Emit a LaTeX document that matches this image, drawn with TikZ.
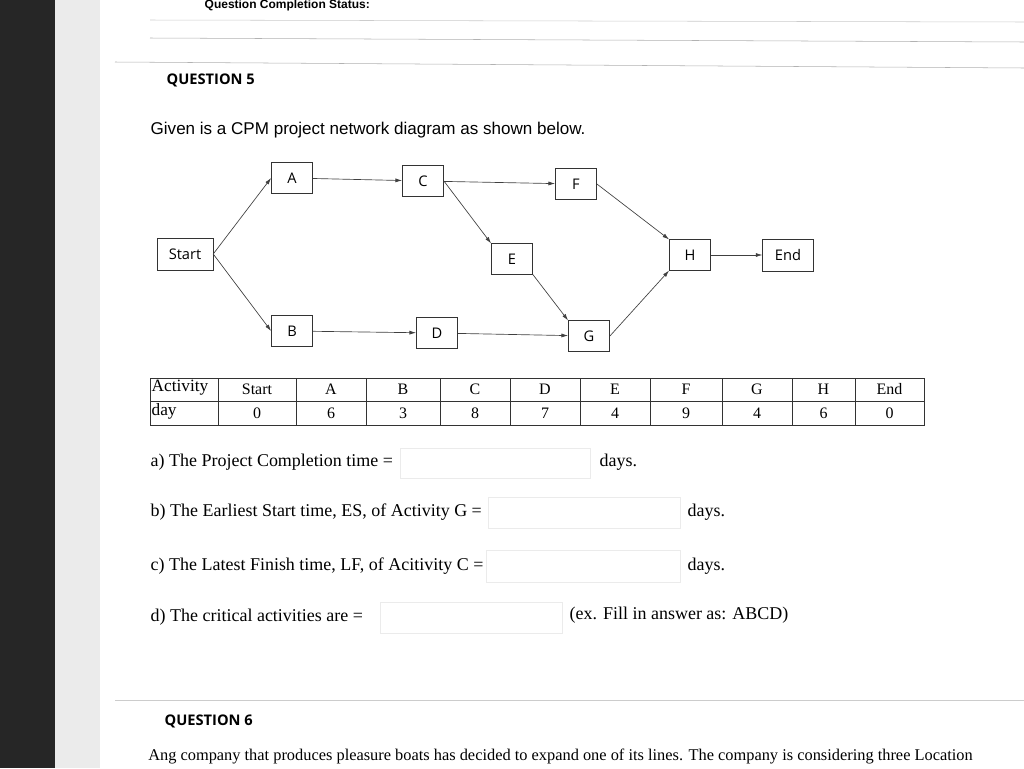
\documentclass[tikz,border=0pt]{standalone}
\usepackage{fontspec}
\setmainfont{Liberation Serif}
\newfontfamily\boxf{Open Sans}
\newfontfamily\arialf{Liberation Sans}
\usetikzlibrary{arrows.meta}
\begin{document}
\begin{tikzpicture}[x=0.0264cm,y=-0.0264cm,
  act/.style={draw=black!80,fill=white,inner sep=0pt,font=\boxf\fontsize{11}{12}\selectfont},
  arr/.style={draw=black!75,line width=0.5pt,-{Latex[length=5pt,width=3pt]}},
  qt/.style={font=\fontsize{13.5}{15}\selectfont,anchor=west},
  tt/.style={font=\fontsize{12}{13}\selectfont},
  inp/.style={draw=black!8,line width=0.4pt}]
\useasboundingbox (0,0) rectangle (1024,768);
\fill[black!8] (0,0) rectangle (1024,768);
\fill[black!85] (0,0) rectangle (55,768);
\fill[white] (100,0) rectangle (1024,768);
\draw[black!30] (115,62) -- (1024,68);
\draw[black!30] (150,38) -- (1024,42);
\draw[black!20] (150,20) -- (1024,22);
\draw[black!20] (115,700) -- (1024,700);
\node[font=\arialf\bfseries\fontsize{9}{10}\selectfont,anchor=west] (t0) at (200,5) {Question Completion Status:};
\node[font=\boxf\bfseries\fontsize{11}{13}\selectfont,anchor=west] (q5) at (162,80) {QUESTION 5};
\node[font=\arialf\fontsize{12.8}{15}\selectfont,anchor=west] (giv) at (146,130) {Given is a CPM project network diagram as shown below.};
% nodes
\node[act,minimum width=31pt,minimum height=23pt] (A) at (292,178) {A};
\node[act,minimum width=31pt,minimum height=23pt] (C) at (423,181) {C};
\node[act,minimum width=31pt,minimum height=23pt] (F) at (576,184) {F};
\node[act,minimum width=42pt,minimum height=24pt] (S) at (185,254) {Start};
\node[act,minimum width=31pt,minimum height=23pt] (E) at (512,259) {E};
\node[act,minimum width=31pt,minimum height=23pt] (H) at (690,255) {H};
\node[act,minimum width=38pt,minimum height=24pt] (End) at (788,255) {End};
\node[act,minimum width=31pt,minimum height=23pt] (B) at (292,331) {B};
\node[act,minimum width=31pt,minimum height=23pt] (D) at (437,333) {D};
\node[act,minimum width=31pt,minimum height=23pt] (G) at (589,336) {G};
% edges
\draw[arr] (S.east) -- (A.west);
\draw[arr] (S.east) -- (B.west);
\draw[arr] (A) -- (C);
\draw[arr] (C) -- (F);
\draw[arr] (C.east) -- (E.north west);
\draw[arr] (B) -- (D);
\draw[arr] (D) -- (G);
\draw[arr] (E.south east) -- (G.north west);
\draw[arr] (F.east) -- (H.north west);
\draw[arr] (G.east) -- (H.south west);
\draw[arr] (H) -- (End);
% table
\foreach \x [remember=\x as \px (initially 150)] in {218,296,366,440,510,580,650,722,792,855,924}{
  \draw[black!80,line width=0.7pt] (\px,378) rectangle (\x,401);
  \draw[black!80,line width=0.7pt] (\px,401) rectangle (\x,425);
}
\foreach \x/\l/\v [remember=\x as \px (initially 218)] in {296/Start/0,366/A/6,440/B/3,510/C/8,580/D/7,650/E/4,722/F/9,792/G/4,855/H/6,924/End/0}{
  \node[tt] (h\l) at ({(\px+\x)/2},389) {\l};
  \node[tt] (v\l) at ({(\px+\x)/2},413) {\v};
}
\node[font=\fontsize{13}{14}\selectfont,anchor=west,inner sep=1pt] (ta) at (150,388) {Activity};
\node[font=\fontsize{13}{14}\selectfont,anchor=west,inner sep=1pt] (tb) at (150,411) {day};
% questions
\node[qt] (qa) at (146,462) {a) The Project Completion time =};
\draw[inp] (400,448) rectangle (590,478);
\node[qt] (da) at (595,462) {days.};
\node[qt] (qb) at (146,512) {b) The Earliest Start time, ES, of Activity G =};
\draw[inp] (488,497) rectangle (680,528);
\node[qt] (db) at (683,512) {days.};
\node[qt] (qc) at (146,566) {c) The Latest Finish time, LF, of Acitivity C =};
\draw[inp] (486,550) rectangle (680,582);
\node[qt] (dc) at (683,566) {days.};
\node[qt] (qd) at (146,617) {d) The critical activities are =};
\draw[inp] (380,602) rectangle (562,633);
\node[qt] (dd) at (565,615) {(ex. Fill in answer as: ABCD)};
\node[font=\boxf\bfseries\fontsize{11}{13}\selectfont,anchor=west] (q6) at (160,721) {QUESTION 6};
\node[font=\fontsize{12.3}{14}\selectfont,anchor=west,inner sep=0pt] (q6t) at (148,756) {Ang company that produces pleasure boats has decided to expand one of its lines. The company is considering three Location};
\end{tikzpicture}
\end{document}
